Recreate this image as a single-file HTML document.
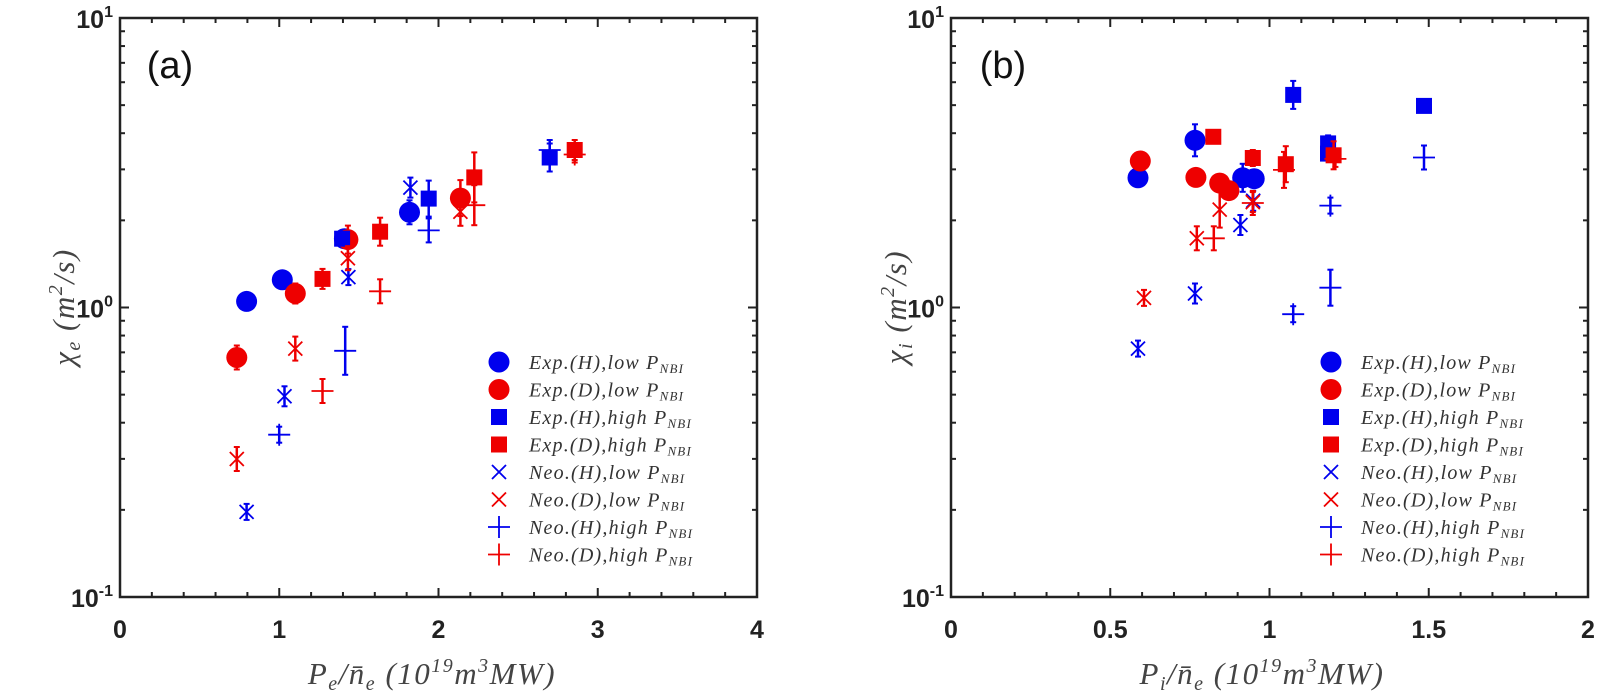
<!DOCTYPE html>
<html><head><meta charset="utf-8"><style>
html,body{margin:0;padding:0;background:#fff;}
svg{display:block;}
.tk{font-family:"Liberation Sans",Arial,sans-serif;font-weight:bold;font-size:25px;fill:#222;}
.lg{font-family:"Liberation Serif",serif;font-style:italic;font-size:20px;letter-spacing:1.2px;fill:#333;}
.ax{font-family:"Liberation Serif",serif;font-style:italic;font-size:31px;letter-spacing:1.5px;fill:#444;}
</style></head><body>
<svg id="s" width="1600" height="692" xmlns="http://www.w3.org/2000/svg"></svg>
<script>
const S=document.getElementById('s');let h='';
const B='#0000ee',R='#ee0000';
function frame(x0,x1,xmax,major,minor,labels){
 const y0=18,y1=597,w=x1-x0;
 h+=`<rect x="${x0}" y="${y0}" width="${w}" height="${y1-y0}" fill="none" stroke="#222" stroke-width="2.5"/>`;
 for(let v=0;v<=xmax+1e-9;v+=minor){const x=x0+v/xmax*w;const isM=Math.abs(v/major-Math.round(v/major))<1e-6;const L=isM?9:5;
  h+=`<line x1="${x}" y1="${y1}" x2="${x}" y2="${y1-L}" stroke="#222" stroke-width="2"/><line x1="${x}" y1="${y0}" x2="${x}" y2="${y0+L}" stroke="#222" stroke-width="2"/>`;}
 labels.forEach(([v,t])=>{const x=x0+v/xmax*w;h+=`<text class="tk" x="${x}" y="638" text-anchor="middle">${t}</text>`;});
 for(let d=0;d<2;d++)for(let k=1;k<=10;k++){const y=y1-(d+Math.log10(k))*289.5;const L=(k==1||k==10)?9:5;
  h+=`<line x1="${x0}" y1="${y}" x2="${x0+L}" y2="${y}" stroke="#222" stroke-width="2"/><line x1="${x1}" y1="${y}" x2="${x1-L}" y2="${y}" stroke="#222" stroke-width="2"/>`;}
 [['-1',597],['0',307.5],['1',18]].forEach(([e,y])=>{h+=`<text class="tk" x="${x0-7}" y="${y+10}" text-anchor="end">10<tspan dy="-11" font-size="16">${e}</tspan></text>`;});
}
function eb(x,y,e,c){h+=`<line x1="${x}" y1="${y-e}" x2="${x}" y2="${y+e}" stroke="${c}" stroke-width="2.5"/><line x1="${x-3}" y1="${y-e}" x2="${x+3}" y2="${y-e}" stroke="${c}" stroke-width="2"/><line x1="${x-3}" y1="${y+e}" x2="${x+3}" y2="${y+e}" stroke="${c}" stroke-width="2"/>`;}
function circ(x,y,c,e){if(e)eb(x,y,e,c);h+=`<circle cx="${x}" cy="${y}" r="10.5" fill="${c}"/>`;}
function sq(x,y,c,e){if(e)eb(x,y,e,c);h+=`<rect x="${x-8}" y="${y-8}" width="16" height="16" fill="${c}"/>`;}
function cr(x,y,c,e){if(e)eb(x,y,e,c);h+=`<path d="M${x-7} ${y-7}L${x+7} ${y+7}M${x-7} ${y+7}L${x+7} ${y-7}" stroke="${c}" stroke-width="1.8"/>`;}
function pl(x,y,c,e){if(e)eb(x,y,e,c);h+=`<path d="M${x-11} ${y}H${x+11}M${x} ${y-11}V${y+11}" stroke="${c}" stroke-width="1.8"/>`;}
function legend(mx,tx){const rows=[[circ,B,'Exp.(H),low '],[circ,R,'Exp.(D),low '],[sq,B,'Exp.(H),high '],[sq,R,'Exp.(D),high '],[cr,B,'Neo.(H),low '],[cr,R,'Neo.(D),low '],[pl,B,'Neo.(H),high '],[pl,R,'Neo.(D),high ']];
 rows.forEach(([f,c,t],i)=>{const y=362+i*27.5;f(mx,y,c,0);h+=`<text class="lg" x="${tx}" y="${y+7}">${t}P<tspan dy="4" font-size="13">NBI</tspan></text>`;});}
// panel a
frame(120,757,4,1,0.2,[[0,'0'],[1,'1'],[2,'2'],[3,'3'],[4,'4']]);
[[246.6,301.4,8],[282.3,279.8,6],[344.4,238.7,8],[409.5,212.3,12]].forEach(p=>circ(p[0],p[1],B,p[2]));
[[236.8,357.5,12],[295.3,293.5,10],[347.9,239.6,14],[460.4,198.1,18]].forEach(p=>circ(p[0],p[1],R,p[2]));
[[342.1,238.7,6],[428.7,198.6,18],[549.7,157.5,14]].forEach(p=>sq(p[0],p[1],B,p[2]));
[[322.5,278.9,10],[380.1,231.7,14],[474.3,177.4,25],[574.7,150,10]].forEach(p=>sq(p[0],p[1],R,p[2]));
[[246.6,511.9,8],[284.5,396.3,10],[348.4,277.1,8],[410.4,187.6,10]].forEach(p=>cr(p[0],p[1],B,p[2]));
[[236.8,459,12],[295.3,348.6,12],[347.9,258.2,12],[460.4,211.8,14]].forEach(p=>cr(p[0],p[1],R,p[2]));
[[279.2,434.7,8],[345.2,350.8,24],[428.7,230.4,12],[549.7,150,10]].forEach(p=>pl(p[0],p[1],B,p[2]));
[[322.5,391,12],[380.1,291.3,12],[474.3,205.2,20],[574.7,154.5,8]].forEach(p=>pl(p[0],p[1],R,p[2]));
legend(499,529);
h+=`<text x="170" y="78" font-family="Liberation Sans,Arial,sans-serif" font-size="38" fill="#111" text-anchor="middle">(a)</text>`;
h+=`<text class="ax" x="432" y="684" text-anchor="middle">P<tspan dy="6" font-size="20">e</tspan><tspan dy="-6">/n̄</tspan><tspan dy="6" font-size="20">e</tspan><tspan dy="-6"> (10</tspan><tspan dy="-12" font-size="20">19</tspan><tspan dy="12">m</tspan><tspan dy="-12" font-size="20">3</tspan><tspan dy="12">MW)</tspan></text>`;
h+=`<text class="ax" transform="translate(74,307) rotate(-90)" text-anchor="middle">χ<tspan dy="6" font-size="20">e</tspan><tspan dy="-6"> (m</tspan><tspan dy="-12" font-size="20">2</tspan><tspan dy="12">/s)</tspan></text>`;
// panel b
frame(951,1588,2,0.5,0.1,[[0,'0'],[0.5,'0.5'],[1,'1'],[1.5,'1.5'],[2,'2']]);
[[1138,177.8,0],[1195,140.3,16],[1242.7,177.8,14],[1254.2,178.7,8]].forEach(p=>circ(p[0],p[1],B,p[2]));
[[1140.3,161,0],[1195.9,177.4,8],[1219.7,183.1,8],[1228.9,190.6,8]].forEach(p=>circ(p[0],p[1],R,p[2]));
[[1293.2,94.9,14],[1328.1,143.4,8],[1328,153.6,6],[1424,105.9,6]].forEach(p=>sq(p[0],p[1],B,p[2]));
[[1213.3,136.8,6],[1252.8,158,8],[1285.8,164.2,18],[1333.6,155.3,14]].forEach(p=>sq(p[0],p[1],R,p[2]));
[[1138,348.6,8],[1195,293.5,10],[1240.4,225,10],[1253.2,200.8,10]].forEach(p=>cr(p[0],p[1],B,p[2]));
[[1144,297.9,8],[1196.8,238.3,12],[1219.7,209.6,18],[1252.8,202.1,10]].forEach(p=>cr(p[0],p[1],R,p[2]));
[[1293.2,314.2,8],[1330.4,287.7,18],[1330.4,205.6,8],[1424,157.5,12]].forEach(p=>pl(p[0],p[1],B,p[2]));
[[1213.8,238.3,12],[1252.8,203,12],[1284,169.9,18],[1335.4,158.9,8]].forEach(p=>pl(p[0],p[1],R,p[2]));
legend(1331,1361);
h+=`<text x="1003" y="78" font-family="Liberation Sans,Arial,sans-serif" font-size="38" fill="#111" text-anchor="middle">(b)</text>`;
h+=`<text class="ax" x="1262" y="684" text-anchor="middle">P<tspan dy="6" font-size="20">i</tspan><tspan dy="-6">/n̄</tspan><tspan dy="6" font-size="20">e</tspan><tspan dy="-6"> (10</tspan><tspan dy="-12" font-size="20">19</tspan><tspan dy="12">m</tspan><tspan dy="-12" font-size="20">3</tspan><tspan dy="12">MW)</tspan></text>`;
h+=`<text class="ax" transform="translate(906,307) rotate(-90)" text-anchor="middle">χ<tspan dy="6" font-size="20">i</tspan><tspan dy="-6"> (m</tspan><tspan dy="-12" font-size="20">2</tspan><tspan dy="12">/s)</tspan></text>`;
S.innerHTML=h;
</script>
</body></html>
